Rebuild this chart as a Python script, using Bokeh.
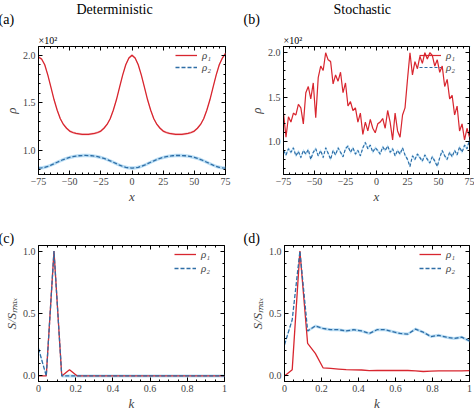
import numpy as np
from bokeh.plotting import figure
from bokeh.layouts import column, row
from bokeh.models import FixedTicker, NumeralTickFormatter, LinearAxis, Title
from bokeh.embed import file_html
from bokeh.resources import INLINE

# ---------------- data ----------------
# density profiles, in units of 10^2
x_det = np.arange(-75, 75.1, 2.5)
rho1_det = [1.98, 1.96, 1.90, 1.79, 1.66, 1.53, 1.42, 1.33, 1.27, 1.23, 1.20, 1.185, 1.175, 1.17, 1.165, 1.165,
            1.165, 1.17, 1.175, 1.185, 1.20, 1.23, 1.27, 1.33, 1.42, 1.53, 1.66, 1.79, 1.90, 1.97, 2.00,
            1.97, 1.90, 1.79, 1.66, 1.53, 1.42, 1.33, 1.27, 1.23, 1.20, 1.185, 1.175, 1.17, 1.165, 1.165,
            1.165, 1.17, 1.175, 1.185, 1.20, 1.23, 1.27, 1.33, 1.42, 1.53, 1.66, 1.79, 1.90, 1.97, 2.02]
rho2_det = [0.810, 0.812, 0.818, 0.828, 0.841, 0.856, 0.871, 0.886, 0.900, 0.912, 0.922, 0.930, 0.936, 0.940, 0.942, 0.943,
            0.942, 0.940, 0.936, 0.930, 0.922, 0.912, 0.900, 0.886, 0.871, 0.856, 0.841, 0.828, 0.818, 0.812, 0.810,
            0.812, 0.818, 0.828, 0.841, 0.856, 0.871, 0.886, 0.900, 0.912, 0.922, 0.930, 0.936, 0.940, 0.942, 0.943,
            0.942, 0.940, 0.936, 0.930, 0.922, 0.912, 0.900, 0.886, 0.871, 0.856, 0.841, 0.828, 0.818, 0.812, 0.810]

x_sto = np.arange(-75, 75.1, 2)
rho1_sto = [1.32, 1.05, 1.28, 1.22, 1.32, 1.30, 1.42, 1.38, 1.20, 1.55, 1.62, 1.48, 1.66, 1.27, 1.72, 1.85,
            1.80, 2.00, 1.92, 1.90, 1.65, 1.75, 1.68, 1.78, 1.55, 1.66, 1.40, 1.45, 1.35, 1.38, 1.22, 1.32,
            1.08, 1.22, 1.12, 1.25, 1.15, 1.10, 1.20, 1.22, 1.26, 1.15, 1.35, 1.22, 1.02, 1.32, 1.12, 1.05,
            1.30, 1.38, 1.70, 2.00, 1.75, 1.90, 1.82, 1.96, 1.88, 2.00, 1.93, 2.00, 1.97, 1.85, 1.92, 1.78,
            1.85, 1.62, 1.70, 1.48, 1.52, 1.30, 1.40, 1.12, 1.20, 1.02, 1.15, 1.05]
rho2_sto = [0.90, 0.85, 0.92, 0.88, 0.93, 0.84, 0.89, 0.82, 0.90, 0.86, 0.91, 0.80, 0.88, 0.92, 0.84, 0.90,
            0.82, 0.93, 0.87, 0.80, 0.90, 0.85, 0.93, 0.88, 0.83, 0.92, 0.95, 0.88, 0.93, 0.86, 0.90, 0.84,
            0.93, 0.99, 0.92, 0.96, 0.88, 0.93, 0.90, 0.86, 0.94, 0.90, 0.95, 0.88, 0.92, 0.84, 0.90, 0.86,
            0.93, 0.85, 0.80, 0.72, 0.84, 0.80, 0.86, 0.82, 0.78, 0.85, 0.80, 0.76, 0.83, 0.78, 0.72, 0.82,
            0.90, 0.84, 0.80, 0.88, 0.83, 0.90, 0.85, 0.94, 0.88, 0.96, 0.92, 1.02]

# normalised structure factors
k = [0.0, 0.0417, 0.0833, 0.125, 0.1667, 0.2083, 0.25, 0.2917, 0.3333, 0.375, 0.4167, 0.4583, 0.5,
     0.5417, 0.5833, 0.625, 0.6667, 0.7083, 0.75, 0.7917, 0.8333, 0.875, 0.9167, 0.9583, 1.0]
S1_det = [0.0, 0.0, 1.0, 0.0, 0.05, 0.0, 0.0, 0.0, 0.0, 0.0, 0.0, 0.0, 0.0,
          0.0, 0.0, 0.0, 0.0, 0.0, 0.0, 0.0, 0.0, 0.0, 0.0, 0.0, 0.0]
S2_det = [0.22, 0.0, 1.0, 0.0, 0.0, 0.0, 0.0, 0.0, 0.0, 0.0, 0.0, 0.0, 0.0,
          0.0, 0.0, 0.0, 0.0, 0.0, 0.0, 0.0, 0.0, 0.0, 0.0, 0.0, 0.0]
S1_sto = [0.0, 0.05, 1.0, 0.26, 0.18, 0.065, 0.06, 0.055, 0.05, 0.048, 0.047, 0.042, 0.043,
          0.043, 0.043, 0.043, 0.043, 0.04, 0.035, 0.038, 0.04, 0.04, 0.04, 0.04, 0.042]
S2_sto = [0.25, 0.45, 1.0, 0.36, 0.40, 0.38, 0.37, 0.37, 0.36, 0.37, 0.36, 0.34, 0.37,
          0.37, 0.355, 0.34, 0.335, 0.375, 0.35, 0.315, 0.325, 0.31, 0.30, 0.31, 0.28]

x_ticks = [-75, -50, -25, 0, 25, 50, 75]
x_tick_labels = ["\u221275", "\u221250", "\u221225", "0", "25", "50", "75"]

# ---------------- style ----------------
RED = "#d8262f"
BLUE = "#2f6ea6"
RED_BAND = "#f4b3b6"
BLUE_BAND = "#a9d6f3"
SERIF = "Liberation Serif"
TICK_FS = "10px"


def style_axes(p, xt, xminor, yt, yminor, xlabel, ylabel, top_gap=0):
    p.xaxis.ticker = FixedTicker(ticks=xt, minor_ticks=xminor)
    p.yaxis.ticker = FixedTicker(ticks=yt, minor_ticks=yminor)
    p.xaxis.axis_label = xlabel
    p.yaxis.axis_label = ylabel
    for ax in p.xaxis + p.yaxis:
        ax.major_tick_in = 4
        ax.major_tick_out = 0
        ax.minor_tick_in = 2
        ax.minor_tick_out = 0
        ax.major_label_text_font = SERIF
        ax.major_label_text_font_size = TICK_FS
        ax.major_label_standoff = 3
        ax.axis_label_text_font = SERIF
        ax.axis_label_text_font_size = "13px"
        ax.axis_label_text_font_style = "italic"
        ax.axis_label_standoff = 1
        ax.axis_line_color = "black"
    # mirrored ticks (no labels) on the top and right edges; the top one
    # can also reserve a gap between the frame and the titles above it
    for loc, ticks, minor in (("above", xt, xminor), ("right", yt, yminor)):
        ax = LinearAxis(ticker=FixedTicker(ticks=ticks, minor_ticks=minor))
        ax.major_label_overrides = {t: "" for t in ticks}
        ax.major_label_text_font_size = "1px"
        ax.major_label_standoff = top_gap if loc == "above" else 0
        ax.major_tick_in = 4
        ax.major_tick_out = 0
        ax.minor_tick_in = 2
        ax.minor_tick_out = 0
        ax.axis_line_color = None
        p.add_layout(ax, loc)
    p.xgrid.visible = False
    p.ygrid.visible = False
    p.outline_line_color = "black"
    p.outline_line_alpha = 1.0
    p.background_fill_color = "white"
    p.border_fill_color = "white"


def style_legend(p):
    lg = p.legend[0]
    lg.location = "top_right"
    lg.border_line_color = None
    lg.background_fill_alpha = 0
    lg.label_text_font = SERIF
    lg.label_text_font_size = "11px"
    lg.label_text_font_style = "italic"
    lg.glyph_width = 22
    lg.glyph_height = 12
    lg.label_height = 12
    lg.label_standoff = 5
    lg.spacing = 0
    lg.padding = 4
    lg.margin = 3


def add_title(p, text, size="14px", offset=0, standoff=0):
    # titles stack outward from the frame; the standoff sets the gaps between them
    p.add_layout(Title(text=text, text_font=SERIF, text_font_size=size,
                       text_font_style="normal", align="left", offset=offset,
                       standoff=standoff, text_color="black"), "above")


def make_fig(height, left, right, top, bottom, xr, yr):
    return figure(width=237, height=height, x_range=xr, y_range=yr,
                  min_border_left=left, min_border_right=right,
                  min_border_top=top, min_border_bottom=bottom,
                  output_backend="svg", toolbar_location=None)


band_r, band_b = 0.012, 0.018

# (a) deterministic density
pa = make_fig(206, 38, 12, 46, 24, (-75, 75), (0.742, 2.092))
pa.varea(x=x_det, y1=np.array(rho1_det) - band_r, y2=np.array(rho1_det) + band_r,
         fill_color=RED_BAND, fill_alpha=0.7)
pa.varea(x=x_det, y1=np.array(rho2_det) - band_b, y2=np.array(rho2_det) + band_b,
         fill_color=BLUE_BAND, fill_alpha=0.8)
pa.line(x_det, rho1_det, line_color=RED, line_width=1.3, legend_label="\u03c1\u2081")
pa.line(x_det, rho2_det, line_color=BLUE, line_width=1.3, line_dash="4 2", legend_label="\u03c1\u2082")
style_axes(pa, x_ticks, list(range(-75, 76, 5)), [1.0, 1.5, 2.0],
           [0.8, 0.9, 1.1, 1.2, 1.3, 1.4, 1.6, 1.7, 1.8, 1.9, 2.0], "x", "\u03c1")
pa.xaxis[0].major_label_overrides = dict(zip(x_ticks, x_tick_labels))
pa.yaxis[0].formatter = NumeralTickFormatter(format="0.0")
style_legend(pa)
add_title(pa, "\u00d710\u00b2", size="10px", standoff=-6)
add_title(pa, "(a)", offset=-40, standoff=18)
add_title(pa, "Deterministic", offset=38, standoff=-32)

# (b) stochastic density
pb = make_fig(206, 46, 5, 46, 24, (-75, 75), (0.63, 2.07))
pb.varea(x=x_sto, y1=np.array(rho1_sto) - band_r, y2=np.array(rho1_sto) + band_r,
         fill_color=RED_BAND, fill_alpha=0.5)
pb.varea(x=x_sto, y1=np.array(rho2_sto) - band_b, y2=np.array(rho2_sto) + band_b,
         fill_color=BLUE_BAND, fill_alpha=0.8)
pb.line(x_sto, rho1_sto, line_color=RED, line_width=1.2, legend_label="\u03c1\u2081")
pb.line(x_sto, rho2_sto, line_color=BLUE, line_width=1.2, line_dash="3 2", legend_label="\u03c1\u2082")
style_axes(pb, x_ticks, list(range(-75, 76, 5)), [1.0, 1.5, 2.0],
           [0.7, 0.8, 0.9, 1.1, 1.2, 1.3, 1.4, 1.6, 1.7, 1.8, 1.9, 2.0], "x", "\u03c1")
pb.xaxis[0].major_label_overrides = dict(zip(x_ticks, x_tick_labels))
pb.yaxis[0].formatter = NumeralTickFormatter(format="0.0")
style_legend(pb)
add_title(pb, "\u00d710\u00b2", size="10px", standoff=-6)
add_title(pb, "(b)", offset=-40, standoff=18)
add_title(pb, "Stochastic", offset=50, standoff=-32)

k_ticks = [0.0, 0.2, 0.4, 0.6, 0.8, 1.0]
k_minor = [round(0.05 * i, 2) for i in range(21)]
s_minor = [round(0.1 * i, 1) for i in range(11)]

# (c) deterministic structure factor
pc = make_fig(207, 38, 13, 39, 24, (0, 1), (-0.045, 1.045))
pc.varea(x=k, y1=np.array(S2_det) - 0.012, y2=np.array(S2_det) + 0.012,
         fill_color=BLUE_BAND, fill_alpha=0.8)
pc.line(k, S1_det, line_color=RED, line_width=1.3, legend_label="\u03c1\u2081")
pc.line(k, S2_det, line_color=BLUE, line_width=1.3, line_dash="4 2", legend_label="\u03c1\u2082")
style_axes(pc, k_ticks, k_minor, [0.0, 0.5, 1.0], s_minor, "k", "S/S\u2098\u2090\u2093", top_gap=16)
pc.xaxis[0].formatter = NumeralTickFormatter(format="0.0")
pc.yaxis[0].formatter = NumeralTickFormatter(format="0.0")
style_legend(pc)
pc.legend[0].spacing = 2
add_title(pc, "(c)", offset=-40, standoff=0)

# (d) stochastic structure factor
pd = make_fig(207, 47, 5, 39, 24, (0, 1), (-0.045, 1.045))
pd.varea(x=k, y1=np.array(S2_sto) - 0.012, y2=np.array(S2_sto) + 0.012,
         fill_color=BLUE_BAND, fill_alpha=0.8)
pd.line(k, S1_sto, line_color=RED, line_width=1.3, legend_label="\u03c1\u2081")
pd.line(k, S2_sto, line_color=BLUE, line_width=1.3, line_dash="4 2", legend_label="\u03c1\u2082")
style_axes(pd, k_ticks, k_minor, [0.0, 0.5, 1.0], s_minor, "k", "S/S\u2098\u2090\u2093", top_gap=16)
pd.xaxis[0].formatter = NumeralTickFormatter(format="0.0")
pd.yaxis[0].formatter = NumeralTickFormatter(format="0.0")
style_legend(pd)
pd.legend[0].spacing = 2
add_title(pd, "(d)", offset=-41, standoff=0)

layout = column(row(pa, pb, spacing=0), row(pc, pd, spacing=0), spacing=0)
open("out.html", "w").write(file_html(layout, INLINE))
